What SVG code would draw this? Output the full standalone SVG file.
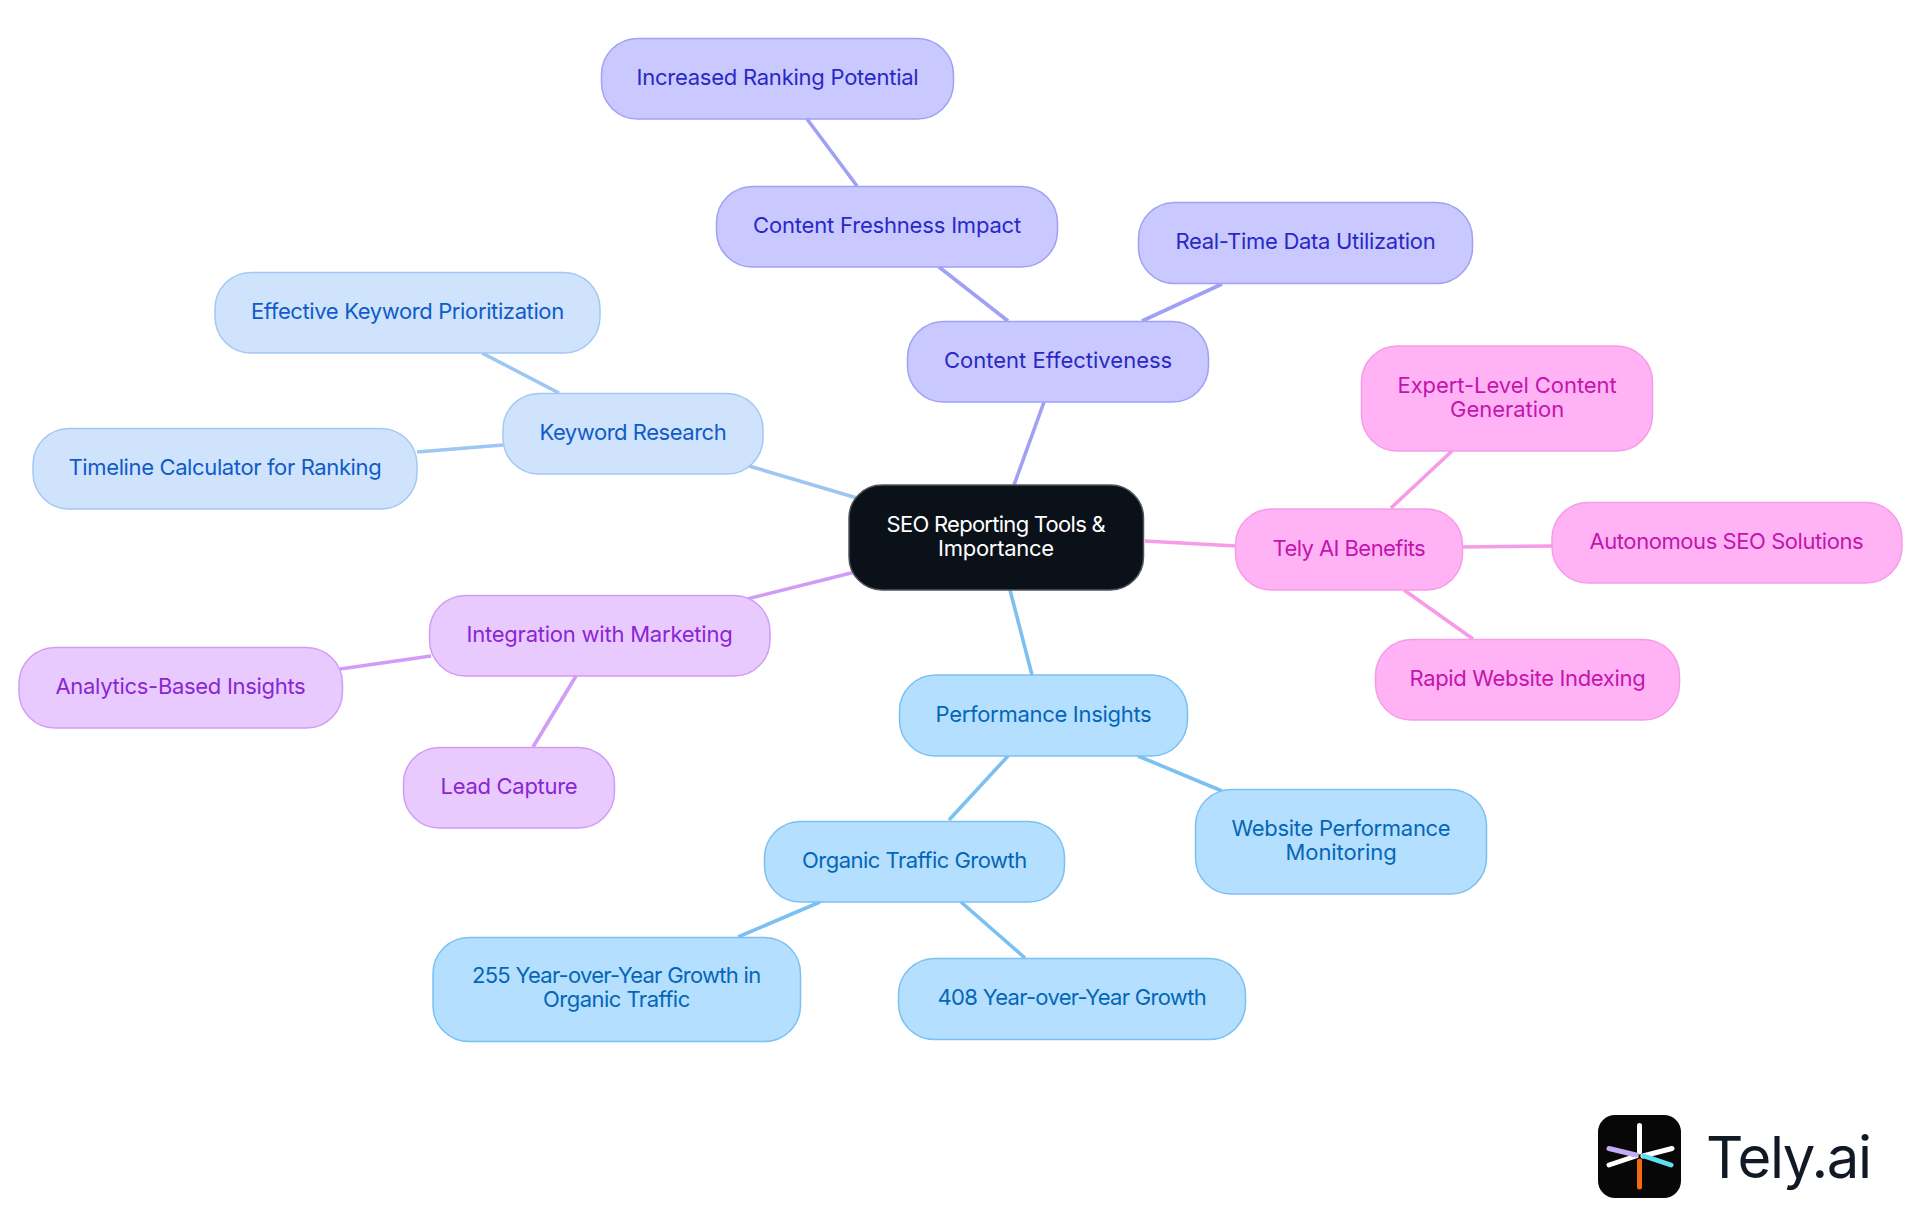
<svg xmlns="http://www.w3.org/2000/svg" width="1920" height="1215" viewBox="0 0 1920 1215">
<style>
text{font-family:"Inter","Noto Sans","Liberation Sans",sans-serif;font-size:22px;font-weight:370;text-anchor:middle;letter-spacing:-.2px}
.n rect{stroke-width:1.5}
.c line{stroke-width:3.6;fill:none}
.kw rect{fill:#cfe3fc;stroke:#a2c8f3}.kw text{fill:#0f5cc8}
.ce rect{fill:#c9c9ff;stroke:#a0a0f5}.ce text{fill:#2a28c4}
.ta rect{fill:#ffb3f5;stroke:#f79ae8}.ta text{fill:#c414ae}
.im rect{fill:#e8caff;stroke:#d19cf5}.im text{fill:#8a25d4}
.pi rect{fill:#b4dfff;stroke:#7cc0f2}.pi text{fill:#0566b8}
</style>
<rect width="1920" height="1215" fill="#ffffff"/>
<g id="connectors" class="c">
<g stroke="#a0a0f5"><line x1="1044" y1="402" x2="1014" y2="485"/><line x1="939" y1="267" x2="1008" y2="321"/><line x1="807" y1="119" x2="857" y2="186"/><line x1="1222" y1="284" x2="1142" y2="321"/></g>
<g stroke="#f79ae8"><line x1="1236" y1="546" x2="1145" y2="541"/><line x1="1452" y1="451" x2="1391" y2="508"/><line x1="1553" y1="546" x2="1463" y2="547"/><line x1="1473" y1="639" x2="1404" y2="590"/></g>
<g stroke="#9ec6f2"><line x1="749" y1="466" x2="857" y2="498"/><line x1="482" y1="353" x2="559" y2="393"/><line x1="417" y1="452" x2="503" y2="445"/></g>
<g stroke="#d19cf5"><line x1="747" y1="599" x2="855" y2="572"/><line x1="340" y1="669" x2="431" y2="656"/><line x1="533" y1="747" x2="576" y2="676"/></g>
<g stroke="#7cc0f2"><line x1="1032" y1="675" x2="1010" y2="590"/><line x1="949" y1="820" x2="1008" y2="756"/><line x1="1222" y1="791" x2="1138" y2="756"/><line x1="738" y1="937" x2="820" y2="902"/><line x1="1025" y1="958" x2="961" y2="902"/></g>
</g>
<g id="root" class="n"><rect x="849" y="485" width="294.500" height="105" rx="33" fill="#0b1119" stroke="#50555b"/><text x="996" y="532" fill="#fff" style="font-weight:400" textLength="219">SEO Reporting Tools &amp;</text><text x="996" y="556" fill="#fff" style="font-weight:400" textLength="116">Importance</text></g>
<g id="n-increased" class="n ce"><rect x="601.500" y="38.500" width="352" height="80.500" rx="36"/><text x="777.500" y="85" textLength="282">Increased Ranking Potential</text></g>
<g id="n-freshness" class="n ce"><rect x="716.500" y="186.500" width="341" height="80.500" rx="36"/><text x="887" y="233" textLength="268">Content Freshness Impact</text></g>
<g id="n-realtime" class="n ce"><rect x="1138.500" y="202.500" width="334" height="81" rx="36"/><text x="1305.500" y="249" textLength="260">Real-Time Data Utilization</text></g>
<g id="n-effect" class="n ce"><rect x="907.500" y="321.500" width="301" height="80.500" rx="36"/><text x="1058" y="368" textLength="228">Content Effectiveness</text></g>
<g id="n-expert" class="n ta"><rect x="1361.500" y="346" width="291" height="105" rx="36"/><text x="1507" y="393" textLength="219">Expert-Level Content</text><text x="1507" y="417" textLength="114">Generation</text></g>
<g id="n-tely" class="n ta"><rect x="1235.500" y="509" width="227" height="81" rx="36"/><text x="1349" y="556" textLength="153">Tely AI Benefits</text></g>
<g id="n-auto" class="n ta"><rect x="1552" y="502.500" width="350" height="80.500" rx="36"/><text x="1726.500" y="549" textLength="274">Autonomous SEO Solutions</text></g>
<g id="n-rapid" class="n ta"><rect x="1375.500" y="639.500" width="304" height="80.500" rx="36"/><text x="1527.500" y="686" textLength="236">Rapid Website Indexing</text></g>
<g id="n-keyword" class="n kw"><rect x="503" y="393.500" width="260" height="80.500" rx="36"/><text x="633" y="440" textLength="187">Keyword Research</text></g>
<g id="n-prior" class="n kw"><rect x="215" y="272.500" width="385" height="80.500" rx="36"/><text x="407.500" y="319" textLength="313">Effective Keyword Prioritization</text></g>
<g id="n-timeline" class="n kw"><rect x="33" y="428.500" width="384" height="80.500" rx="36"/><text x="225" y="475" textLength="313">Timeline Calculator for Ranking</text></g>
<g id="n-integ" class="n im"><rect x="429.500" y="595.500" width="340.500" height="80.500" rx="36"/><text x="599.500" y="642" textLength="266">Integration with Marketing</text></g>
<g id="n-analytics" class="n im"><rect x="19" y="647.500" width="323.500" height="80.500" rx="36"/><text x="180.500" y="694" textLength="250">Analytics-Based Insights</text></g>
<g id="n-lead" class="n im"><rect x="403.500" y="747.500" width="211" height="80.500" rx="36"/><text x="509" y="794" textLength="137">Lead Capture</text></g>
<g id="n-perf" class="n pi"><rect x="899.500" y="675" width="288" height="81" rx="36"/><text x="1043.500" y="722" textLength="216">Performance Insights</text></g>
<g id="n-website" class="n pi"><rect x="1195.500" y="789.500" width="291" height="104.500" rx="36"/><text x="1341" y="836" textLength="219">Website Performance</text><text x="1341" y="860" textLength="111">Monitoring</text></g>
<g id="n-organic" class="n pi"><rect x="764.500" y="821.500" width="300" height="80.500" rx="36"/><text x="914.500" y="868" textLength="225">Organic Traffic Growth</text></g>
<g id="n-255" class="n pi"><rect x="433" y="937.500" width="367.500" height="104" rx="36"/><text x="616.500" y="983" textLength="289">255 Year-over-Year Growth in</text><text x="616.500" y="1007" textLength="147">Organic Traffic</text></g>
<g id="n-408" class="n pi"><rect x="898.500" y="958.500" width="347" height="81" rx="36"/><text x="1072" y="1005" textLength="269">408 Year-over-Year Growth</text></g>
<g id="logo">
<rect x="1598" y="1115" width="83" height="83" rx="17" fill="#070707"/>
<g stroke-width="5" stroke-linecap="round" fill="none">
<line x1="1639.500" y1="1125.500" x2="1639.500" y2="1152" stroke="#fff"/>
<line x1="1672" y1="1148.500" x2="1643" y2="1156" stroke="#fff"/>
<line x1="1609" y1="1165" x2="1636" y2="1156" stroke="#fff"/>
<line x1="1609" y1="1148.500" x2="1636" y2="1155" stroke="#c4abf5"/>
<line x1="1671" y1="1165" x2="1644" y2="1156" stroke="#5ee0f0"/>
<line x1="1639.500" y1="1161" x2="1639.500" y2="1187" stroke="#f36a10"/>
</g>
<text x="1789" y="1178" fill="#111a24" style="font-size:58px;font-weight:400;letter-spacing:0" textLength="166">Tely.ai</text>
</g>
</svg>
